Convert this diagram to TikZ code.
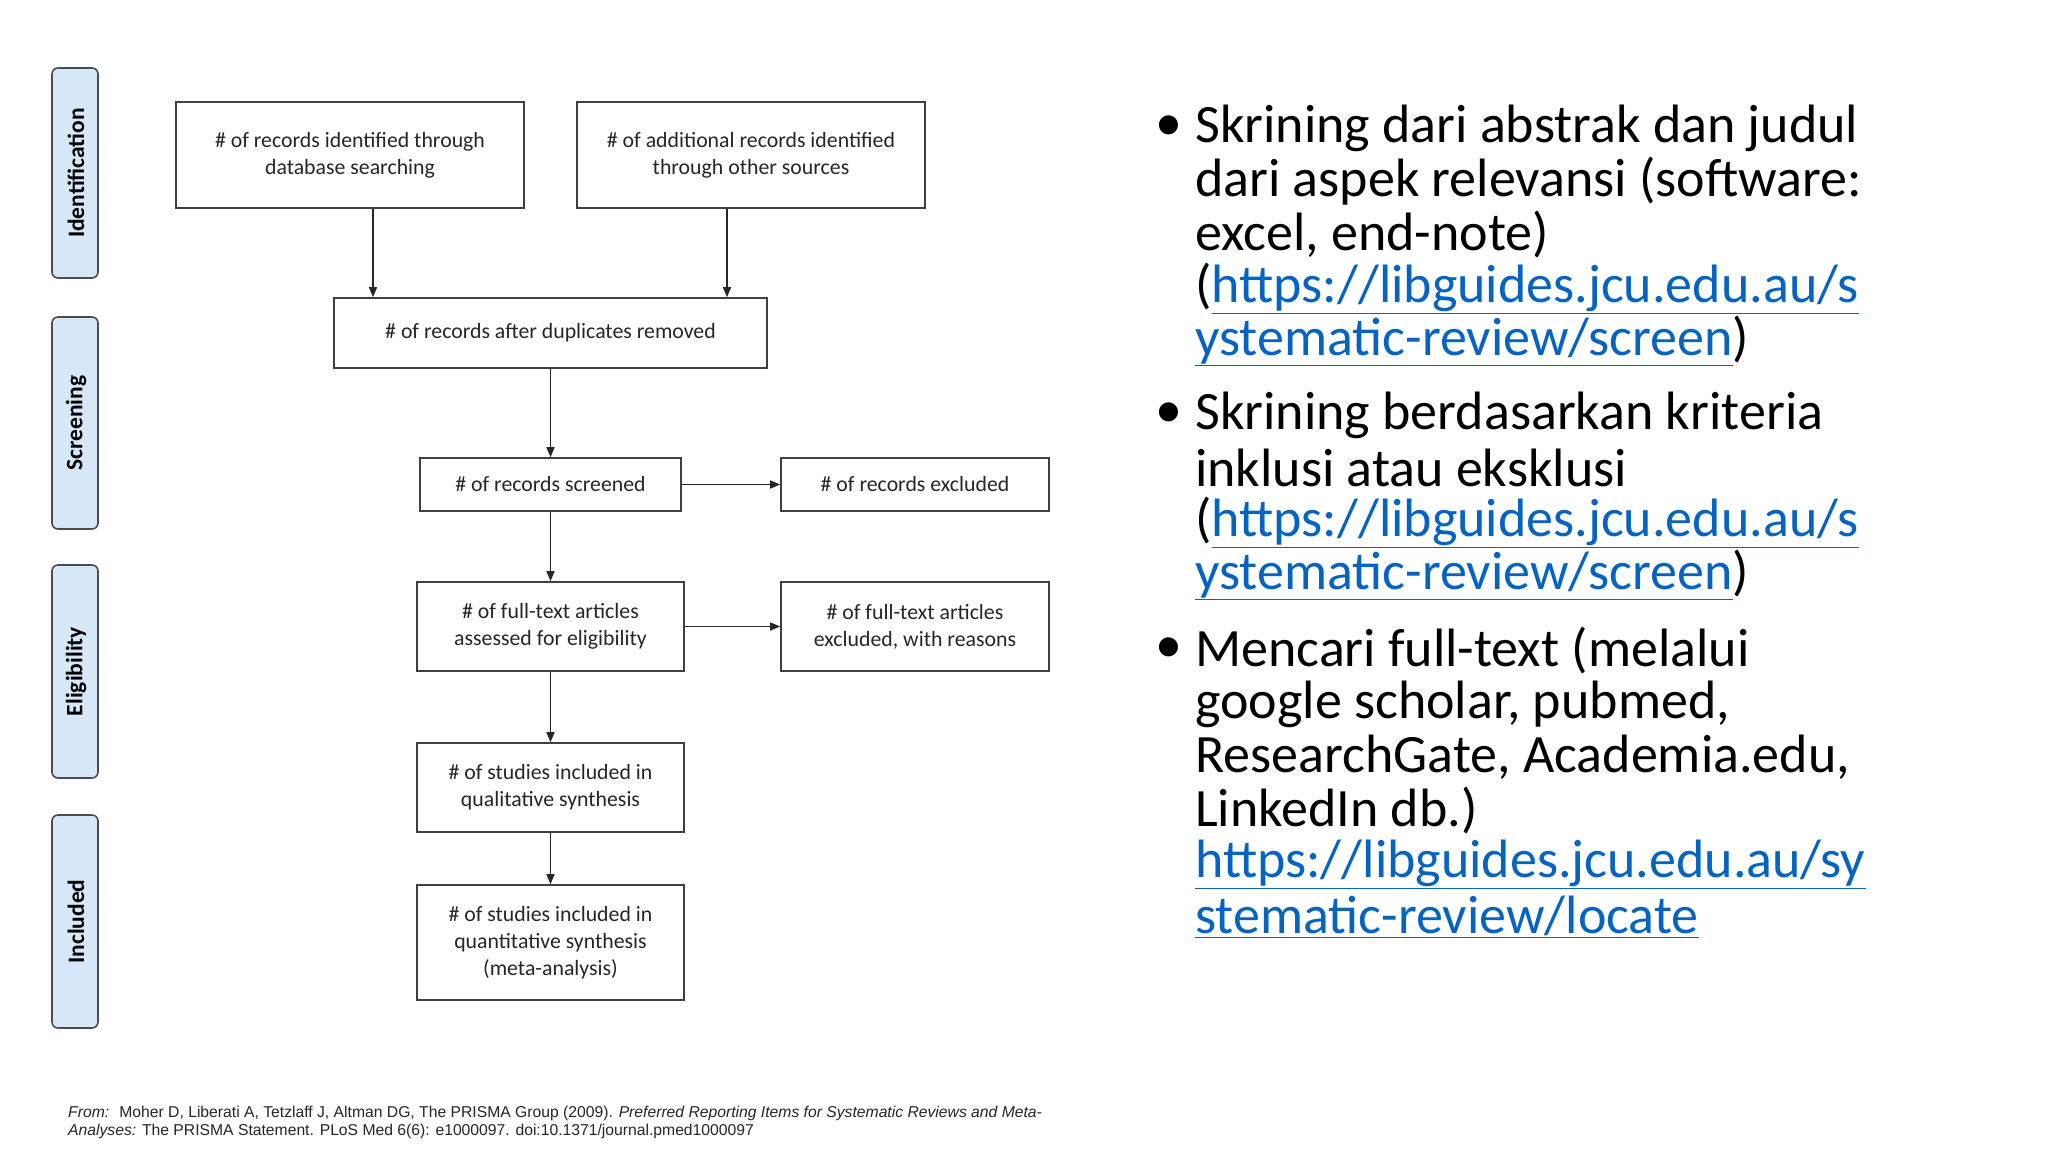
\documentclass[tikz,border=0pt]{standalone}
\usepackage{fontspec}
\setmainfont{Carlito}
\newfontfamily\arialf{Liberation Sans}
\usetikzlibrary{arrows.meta}
\definecolor{lnk}{HTML}{0563C1}
\definecolor{side}{HTML}{D6E8F8}
\newcommand{\lk}[1]{\textcolor{lnk}{\underline{#1}}}
\tikzset{
 box/.style={draw=black!75,line width=1.6pt,align=center,font=\fontsize{21.8}{27}\selectfont,text=black!85,inner sep=0},
 sidebox/.style={draw=black!70,fill=side,rounded corners=6pt,line width=1.6pt},
 arr/.style={-{Triangle[length=10pt,width=8pt]},line width=1.4pt,black!85},
 bl/.style={anchor=west,font=\fontsize{54}{53}\selectfont,inner sep=0},
}
\begin{document}
\begin{tikzpicture}[x=1pt,y=-1pt]
\useasboundingbox (0,0) rectangle (2048,1152);
\fill[white] (0,0) rectangle (2048,1152);
% side labels
\foreach \a/\b/\t [count=\i] in {68/278/Identification,317/529/Screening,565/778/Eligibility,815/1028/Included}{
 \draw[sidebox] (52,\a) rectangle (98,\b);
 \node[rotate=90,font=\bfseries\fontsize{23.5}{26}\selectfont] (s\i) at (76,{(\a+\b)/2}) {\t};
}
% boxes
\node[box,minimum width=348pt,minimum height=106pt] (b1) at (350,155) {\# of records identified through\\database searching};
\node[box,minimum width=348pt,minimum height=106pt] (b2) at (751,155) {\# of additional records identified\\through other sources};
\node[box,minimum width=433pt,minimum height=70pt] (dup) at (550.5,333) {\# of records after duplicates removed};
\node[box,minimum width=261pt,minimum height=53pt] (scr) at (550.5,484.5) {\# of records screened};
\node[box,minimum width=268pt,minimum height=53pt] (exc) at (915,484.5) {\# of records excluded};
\node[box,minimum width=267pt,minimum height=89pt] (ft) at (550.5,626.5) {\# of full-text articles\\assessed for eligibility};
\node[box,minimum width=268pt,minimum height=89pt] (fte) at (915,626.5) {\# of full-text articles\\excluded, with reasons};
\node[box,minimum width=267pt,minimum height=89pt] (ql) at (550.5,787.5) {\# of studies included in\\qualitative synthesis};
\node[box,minimum width=267pt,minimum height=115pt] (qn) at (550.5,942.5) {\# of studies included in\\quantitative synthesis\\(meta-analysis)};
\draw[arr] (b1.south -| 373,0) -- (dup.north -| 373,0);
\draw[arr] (b2.south -| 727,0) -- (dup.north -| 727,0);
\draw[arr] (dup) -- (scr);
\draw[arr] (scr) -- (exc);
\draw[arr] (scr) -- (ft);
\draw[arr] (ft) -- (fte);
\draw[arr] (ft) -- (ql);
\draw[arr] (ql) -- (qn);
% footer
\node[anchor=north west,align=left,inner sep=0,font=\arialf\fontsize{15.7}{18}\selectfont,text=black!85] (foot) at (68,1106) {\textit{From:} \ Moher D, Liberati A, Tetzlaff J, Altman DG, The PRISMA Group (2009). \textit{Preferred Reporting Items for Systematic Reviews and Meta-}\\\textit{Analyses:} The PRISMA Statement. PLoS Med 6(6): e1000097. doi:10.1371/journal.pmed1000097};
% bullets
\foreach \y in {128,415,650}{\node[bl] at (1155,\y) {•};}
\node[bl] (l1) at (1195,128) {Skrining dari abstrak dan judul};
\node[bl] (l2) at (1195,181) {dari aspek relevansi (software:};
\node[bl] (l3) at (1195,234) {excel, end-note)};
\node[bl] (l4) at (1195,288) {(\lk{https://libguides.jcu.edu.au/s}};
\node[bl] (l5) at (1195,341) {\lk{ystematic-review/screen})};
\node[bl] (m1) at (1195,415) {Skrining berdasarkan kriteria};
\node[bl] (m2) at (1195,468) {inklusi atau eksklusi};
\node[bl] (m3) at (1195,522) {(\lk{https://libguides.jcu.edu.au/s}};
\node[bl] (m4) at (1195,575) {\lk{ystematic-review/screen})};
\node[bl] (n1) at (1195,650) {Mencari full-text (melalui};
\node[bl] (n2) at (1195,704) {google scholar, pubmed,};
\node[bl] (n3) at (1195,757) {ResearchGate, Academia.edu,};
\node[bl] (n4) at (1195,810) {LinkedIn db.)};
\node[bl] (n5) at (1195,864) {\lk{https://libguides.jcu.edu.au/sy}};
\node[bl] (n6) at (1195,917) {\lk{stematic-review/locate}};
\end{tikzpicture}
\end{document}
